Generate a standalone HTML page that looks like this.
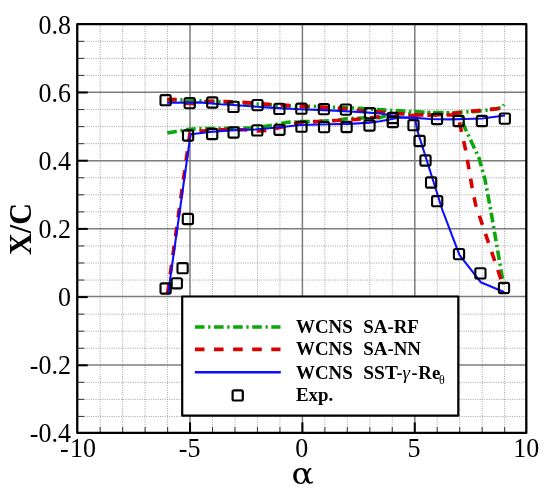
<!DOCTYPE html>
<html><head><meta charset="utf-8"><style>
html,body{margin:0;padding:0;background:#fff;}
svg{display:block;}
</style></head><body>
<svg width="550" height="493" viewBox="0 0 550 493">
<rect width="550" height="493" fill="#fff"/>
<g stroke="#a2a2a2" stroke-width="1" stroke-dasharray="1 1.3"><line x1="100.17" y1="24.1" x2="100.17" y2="432.9"/><line x1="122.64" y1="24.1" x2="122.64" y2="432.9"/><line x1="145.11" y1="24.1" x2="145.11" y2="432.9"/><line x1="167.58" y1="24.1" x2="167.58" y2="432.9"/><line x1="212.52" y1="24.1" x2="212.52" y2="432.9"/><line x1="234.99" y1="24.1" x2="234.99" y2="432.9"/><line x1="257.46" y1="24.1" x2="257.46" y2="432.9"/><line x1="279.93" y1="24.1" x2="279.93" y2="432.9"/><line x1="324.87" y1="24.1" x2="324.87" y2="432.9"/><line x1="347.34" y1="24.1" x2="347.34" y2="432.9"/><line x1="369.81" y1="24.1" x2="369.81" y2="432.9"/><line x1="392.28" y1="24.1" x2="392.28" y2="432.9"/><line x1="437.22" y1="24.1" x2="437.22" y2="432.9"/><line x1="459.69" y1="24.1" x2="459.69" y2="432.9"/><line x1="482.16" y1="24.1" x2="482.16" y2="432.9"/><line x1="504.63" y1="24.1" x2="504.63" y2="432.9"/><line x1="77.25" y1="416.45" x2="526.3" y2="416.45"/><line x1="77.25" y1="399.40" x2="526.3" y2="399.40"/><line x1="77.25" y1="382.35" x2="526.3" y2="382.35"/><line x1="77.25" y1="348.25" x2="526.3" y2="348.25"/><line x1="77.25" y1="331.20" x2="526.3" y2="331.20"/><line x1="77.25" y1="314.15" x2="526.3" y2="314.15"/><line x1="77.25" y1="280.05" x2="526.3" y2="280.05"/><line x1="77.25" y1="263.00" x2="526.3" y2="263.00"/><line x1="77.25" y1="245.95" x2="526.3" y2="245.95"/><line x1="77.25" y1="211.85" x2="526.3" y2="211.85"/><line x1="77.25" y1="194.80" x2="526.3" y2="194.80"/><line x1="77.25" y1="177.75" x2="526.3" y2="177.75"/><line x1="77.25" y1="143.65" x2="526.3" y2="143.65"/><line x1="77.25" y1="126.60" x2="526.3" y2="126.60"/><line x1="77.25" y1="109.55" x2="526.3" y2="109.55"/><line x1="77.25" y1="75.45" x2="526.3" y2="75.45"/><line x1="77.25" y1="58.40" x2="526.3" y2="58.40"/><line x1="77.25" y1="41.35" x2="526.3" y2="41.35"/></g>
<g stroke="#7c7c7c" stroke-width="1.5"><line x1="190.00" y1="24.1" x2="190.00" y2="432.9"/><line x1="302.40" y1="24.1" x2="302.40" y2="432.9"/><line x1="414.80" y1="24.1" x2="414.80" y2="432.9"/><line x1="77.25" y1="92.30" x2="526.3" y2="92.30"/><line x1="77.25" y1="160.80" x2="526.3" y2="160.80"/><line x1="77.25" y1="228.80" x2="526.3" y2="228.80"/><line x1="77.25" y1="296.60" x2="526.3" y2="296.60"/><line x1="77.25" y1="365.00" x2="526.3" y2="365.00"/></g>
<g stroke="#000"><line x1="100.17" y1="432.9" x2="100.17" y2="426.9" stroke-width="1.1" stroke="#444"/><line x1="122.64" y1="432.9" x2="122.64" y2="426.9" stroke-width="1.1" stroke="#444"/><line x1="145.11" y1="432.9" x2="145.11" y2="426.9" stroke-width="1.1" stroke="#444"/><line x1="167.58" y1="432.9" x2="167.58" y2="426.9" stroke-width="1.1" stroke="#444"/><line x1="190.05" y1="432.9" x2="190.05" y2="422.4" stroke-width="2"/><line x1="212.52" y1="432.9" x2="212.52" y2="426.9" stroke-width="1.1" stroke="#444"/><line x1="234.99" y1="432.9" x2="234.99" y2="426.9" stroke-width="1.1" stroke="#444"/><line x1="257.46" y1="432.9" x2="257.46" y2="426.9" stroke-width="1.1" stroke="#444"/><line x1="279.93" y1="432.9" x2="279.93" y2="426.9" stroke-width="1.1" stroke="#444"/><line x1="302.40" y1="432.9" x2="302.40" y2="422.4" stroke-width="2"/><line x1="324.87" y1="432.9" x2="324.87" y2="426.9" stroke-width="1.1" stroke="#444"/><line x1="347.34" y1="432.9" x2="347.34" y2="426.9" stroke-width="1.1" stroke="#444"/><line x1="369.81" y1="432.9" x2="369.81" y2="426.9" stroke-width="1.1" stroke="#444"/><line x1="392.28" y1="432.9" x2="392.28" y2="426.9" stroke-width="1.1" stroke="#444"/><line x1="414.75" y1="432.9" x2="414.75" y2="422.4" stroke-width="2"/><line x1="437.22" y1="432.9" x2="437.22" y2="426.9" stroke-width="1.1" stroke="#444"/><line x1="459.69" y1="432.9" x2="459.69" y2="426.9" stroke-width="1.1" stroke="#444"/><line x1="482.16" y1="432.9" x2="482.16" y2="426.9" stroke-width="1.1" stroke="#444"/><line x1="504.63" y1="432.9" x2="504.63" y2="426.9" stroke-width="1.1" stroke="#444"/><line x1="77.25" y1="416.45" x2="84.25" y2="416.45" stroke-width="1.1" stroke="#444"/><line x1="77.25" y1="399.40" x2="84.25" y2="399.40" stroke-width="1.1" stroke="#444"/><line x1="77.25" y1="382.35" x2="84.25" y2="382.35" stroke-width="1.1" stroke="#444"/><line x1="77.25" y1="365.30" x2="87.75" y2="365.30" stroke-width="2"/><line x1="77.25" y1="348.25" x2="84.25" y2="348.25" stroke-width="1.1" stroke="#444"/><line x1="77.25" y1="331.20" x2="84.25" y2="331.20" stroke-width="1.1" stroke="#444"/><line x1="77.25" y1="314.15" x2="84.25" y2="314.15" stroke-width="1.1" stroke="#444"/><line x1="77.25" y1="297.10" x2="87.75" y2="297.10" stroke-width="2"/><line x1="77.25" y1="280.05" x2="84.25" y2="280.05" stroke-width="1.1" stroke="#444"/><line x1="77.25" y1="263.00" x2="84.25" y2="263.00" stroke-width="1.1" stroke="#444"/><line x1="77.25" y1="245.95" x2="84.25" y2="245.95" stroke-width="1.1" stroke="#444"/><line x1="77.25" y1="228.90" x2="87.75" y2="228.90" stroke-width="2"/><line x1="77.25" y1="211.85" x2="84.25" y2="211.85" stroke-width="1.1" stroke="#444"/><line x1="77.25" y1="194.80" x2="84.25" y2="194.80" stroke-width="1.1" stroke="#444"/><line x1="77.25" y1="177.75" x2="84.25" y2="177.75" stroke-width="1.1" stroke="#444"/><line x1="77.25" y1="160.70" x2="87.75" y2="160.70" stroke-width="2"/><line x1="77.25" y1="143.65" x2="84.25" y2="143.65" stroke-width="1.1" stroke="#444"/><line x1="77.25" y1="126.60" x2="84.25" y2="126.60" stroke-width="1.1" stroke="#444"/><line x1="77.25" y1="109.55" x2="84.25" y2="109.55" stroke-width="1.1" stroke="#444"/><line x1="77.25" y1="92.50" x2="87.75" y2="92.50" stroke-width="2"/><line x1="77.25" y1="75.45" x2="84.25" y2="75.45" stroke-width="1.1" stroke="#444"/><line x1="77.25" y1="58.40" x2="84.25" y2="58.40" stroke-width="1.1" stroke="#444"/><line x1="77.25" y1="41.35" x2="84.25" y2="41.35" stroke-width="1.1" stroke="#444"/></g>
<g fill="none" stroke-linejoin="round">
<polyline points="167.3,133.1 176.0,131.5 188.0,129.6 196.0,128.7 230.0,128.3 250.0,128.0 262.0,126.8 272.0,125.2 280.0,123.6 288.0,122.3 300.0,121.6 320.0,121.4 335.0,120.5 346.0,118.8 362.0,118.0 380.0,117.6 392.0,114.0 415.0,113.0 440.0,112.5 462.0,113.0 463.4,124.6 479.0,158.0 484.7,178.2 490.2,207.2 504.0,287.3" stroke="#0aa80a" stroke-width="3.6" stroke-dasharray="9.6 3.7 2.2 3.6"/>
<polyline points="167.0,99.9 181.0,99.9 200.6,100.9 219.7,101.9 257.0,104.0 294.0,106.2 314.0,106.4 325.0,107.2 340.0,107.4 360.0,108.3 378.0,109.6 400.0,110.9 418.0,111.8 435.0,112.8 450.0,113.0 460.0,112.2 477.5,111.4 495.5,109.0 502.0,107.5 504.0,104.5" stroke="#0aa80a" stroke-width="3.6" stroke-dasharray="9.6 3.7 2.2 3.6"/>
<polyline points="167.6,293.2 190.0,132.4 200.0,131.2 215.0,130.3 225.0,129.6 245.0,129.8 258.0,131.0 266.0,130.4 280.0,127.6 295.0,123.5 317.0,121.5 337.0,120.5 356.0,119.4 370.0,117.8 380.0,116.8 392.0,116.5 415.0,115.3 440.0,115.0 458.0,115.0 460.0,125.0 465.7,150.2 469.0,169.2 472.4,189.3 475.7,205.0 503.0,285.3" stroke="#d90000" stroke-width="3.6" stroke-dasharray="9.6 9.5"/>
<polyline points="167.0,99.4 177.0,99.6 186.0,103.3 194.0,103.8 201.0,102.4 210.0,101.2 225.0,101.5 247.0,102.6 267.0,104.2 287.0,105.4 300.0,106.4 325.0,107.4 345.0,108.9 360.0,110.5 392.0,113.0 415.0,115.0 446.0,114.6 458.0,112.8 470.0,111.4 490.0,109.4 500.0,108.4" stroke="#d90000" stroke-width="3.6" stroke-dasharray="9.6 9.5"/>
<polyline points="168.2,292.6 190.6,134.2 195.0,133.8 210.0,132.0 230.0,130.4 255.0,129.5 280.0,127.3 300.0,125.0 330.0,124.3 350.0,123.9 370.0,122.6 380.0,121.2 392.0,119.0 400.0,117.4 415.0,118.0 417.2,130.0 442.4,210.0 459.4,254.8 480.7,282.2 504.0,292.0" stroke="#0d0dff" stroke-width="2.1"/>
<polyline points="167.0,102.8 200.0,102.4 220.0,104.2 230.0,104.7 250.0,106.2 270.0,107.6 290.0,108.8 300.0,109.3 330.0,110.4 350.0,111.5 365.0,112.4 380.0,113.5 392.0,115.5 400.0,117.2 415.0,117.9 430.0,119.0 450.0,119.4 465.0,119.0 482.0,118.5 505.0,115.5" stroke="#0d0dff" stroke-width="2.1"/>
</g>
<g fill="none" stroke="#000" stroke-width="2.1"><rect x="160.50" y="95.10" width="10.2" height="10.2" rx="1.6"/><rect x="184.60" y="98.00" width="10.2" height="10.2" rx="1.6"/><rect x="207.20" y="97.40" width="10.2" height="10.2" rx="1.6"/><rect x="228.40" y="101.80" width="10.2" height="10.2" rx="1.6"/><rect x="252.40" y="100.00" width="10.2" height="10.2" rx="1.6"/><rect x="274.30" y="103.80" width="10.2" height="10.2" rx="1.6"/><rect x="296.30" y="103.60" width="10.2" height="10.2" rx="1.6"/><rect x="318.80" y="104.00" width="10.2" height="10.2" rx="1.6"/><rect x="340.80" y="104.50" width="10.2" height="10.2" rx="1.6"/><rect x="364.90" y="108.10" width="10.2" height="10.2" rx="1.6"/><rect x="387.70" y="112.90" width="10.2" height="10.2" rx="1.6"/><rect x="431.90" y="113.90" width="10.2" height="10.2" rx="1.6"/><rect x="453.50" y="115.90" width="10.2" height="10.2" rx="1.6"/><rect x="476.80" y="115.90" width="10.2" height="10.2" rx="1.6"/><rect x="499.70" y="113.50" width="10.2" height="10.2" rx="1.6"/><rect x="183.00" y="130.40" width="10.2" height="10.2" rx="1.6"/><rect x="207.10" y="128.90" width="10.2" height="10.2" rx="1.6"/><rect x="228.50" y="127.40" width="10.2" height="10.2" rx="1.6"/><rect x="252.20" y="125.30" width="10.2" height="10.2" rx="1.6"/><rect x="274.40" y="124.70" width="10.2" height="10.2" rx="1.6"/><rect x="296.40" y="121.60" width="10.2" height="10.2" rx="1.6"/><rect x="319.00" y="122.00" width="10.2" height="10.2" rx="1.6"/><rect x="341.50" y="121.90" width="10.2" height="10.2" rx="1.6"/><rect x="364.40" y="120.40" width="10.2" height="10.2" rx="1.6"/><rect x="387.70" y="116.90" width="10.2" height="10.2" rx="1.6"/><rect x="408.40" y="120.10" width="10.2" height="10.2" rx="1.6"/><rect x="160.50" y="283.40" width="10.2" height="10.2" rx="1.6"/><rect x="171.70" y="278.20" width="10.2" height="10.2" rx="1.6"/><rect x="177.50" y="263.10" width="10.2" height="10.2" rx="1.6"/><rect x="182.80" y="213.90" width="10.2" height="10.2" rx="1.6"/><rect x="414.50" y="135.90" width="10.2" height="10.2" rx="1.6"/><rect x="420.40" y="155.40" width="10.2" height="10.2" rx="1.6"/><rect x="426.00" y="177.40" width="10.2" height="10.2" rx="1.6"/><rect x="432.10" y="196.10" width="10.2" height="10.2" rx="1.6"/><rect x="453.90" y="249.00" width="10.2" height="10.2" rx="1.6"/><rect x="475.30" y="268.30" width="10.2" height="10.2" rx="1.6"/><rect x="498.90" y="282.90" width="10.2" height="10.2" rx="1.6"/></g>
<rect x="77.25" y="24.1" width="449.04999999999995" height="408.79999999999995" fill="none" stroke="#000" stroke-width="2.3" stroke-linejoin="round"/>
<rect x="182.2" y="296.5" width="276.1" height="119.10000000000002" fill="#fff" stroke="#000" stroke-width="2.2" stroke-linejoin="round"/>
<line x1="194.9" y1="327" x2="280.5" y2="327" stroke="#0aa80a" stroke-width="3.6" stroke-dasharray="9.6 3.7 2.2 3.6"/>
<line x1="194.9" y1="349.4" x2="280.5" y2="349.4" stroke="#d90000" stroke-width="3.6" stroke-dasharray="9.6 9.5"/>
<line x1="194.8" y1="372.3" x2="280.8" y2="372.3" stroke="#0d0dff" stroke-width="2.5"/>
<rect x="232.60" y="390.30" width="10.2" height="10.2" rx="1.6" fill="none" stroke="#000" stroke-width="2.2"/>
<g font-family="Liberation Serif, serif" font-weight="bold" font-size="18" fill="#000">
<text x="296" y="332.6" transform="translate(296 0) scale(1.05 1) translate(-296 0)">WCNS</text><text x="363.3" y="332.6" transform="translate(363.3 0) scale(1.05 1) translate(-363.3 0)">SA-RF</text>
<text x="296" y="355.4" transform="translate(296 0) scale(1.05 1) translate(-296 0)">WCNS</text><text x="363.3" y="355.4" transform="translate(363.3 0) scale(1.05 1) translate(-363.3 0)">SA-NN</text>
<text x="296" y="378.6" transform="translate(296 0) scale(1.05 1) translate(-296 0)">WCNS</text><text x="363.3" y="378.6" transform="translate(363.3 0) scale(1.08 1) translate(-363.3 0)">SST</text>
<text x="396.6" y="378.6">-</text><text x="402.6" y="378.6" font-weight="normal" font-style="italic" font-size="19">γ</text><text x="411.6" y="378.6">-</text>
<text x="418.3" y="378.6" transform="translate(418.3 0) scale(1.05 1) translate(-418.3 0)">Re</text><text x="438.9" y="383.9" font-weight="normal" font-size="12">θ</text>
<text x="296" y="401.3" transform="translate(296 0) scale(1.05 1) translate(-296 0)">Exp.</text>
</g>
<g font-family="Liberation Serif, serif" font-size="26" fill="#000"><text x="71" y="33.3" text-anchor="end" transform="translate(0 24.90) scale(1 1.08) translate(0 -24.90)">0.8</text><text x="71" y="101.4" text-anchor="end" transform="translate(0 92.98) scale(1 1.08) translate(0 -92.98)">0.6</text><text x="71" y="169.5" text-anchor="end" transform="translate(0 161.06) scale(1 1.08) translate(0 -161.06)">0.4</text><text x="71" y="237.5" text-anchor="end" transform="translate(0 229.14) scale(1 1.08) translate(0 -229.14)">0.2</text><text x="71" y="305.6" text-anchor="end" transform="translate(0 297.22) scale(1 1.08) translate(0 -297.22)">0</text><text x="71" y="373.7" text-anchor="end" transform="translate(0 365.30) scale(1 1.08) translate(0 -365.30)">-0.2</text><text x="71" y="441.8" text-anchor="end" transform="translate(0 433.38) scale(1 1.08) translate(0 -433.38)">-0.4</text><text x="78.0" y="456.9" text-anchor="middle" transform="translate(0 456.9) scale(1 1.06) translate(0 -456.9)">-<tspan dx="1.3">10</tspan></text><text x="189.6" y="456.9" text-anchor="middle" transform="translate(0 456.9) scale(1 1.06) translate(0 -456.9)">-5</text><text x="301.8" y="456.9" text-anchor="middle" transform="translate(0 456.9) scale(1 1.06) translate(0 -456.9)">0</text><text x="414.1" y="456.9" text-anchor="middle" transform="translate(0 456.9) scale(1 1.06) translate(0 -456.9)">5</text><text x="526.3" y="456.9" text-anchor="middle" transform="translate(0 456.9) scale(1 1.06) translate(0 -456.9)">10</text></g>
<text x="0" y="0" transform="translate(291.4 484.1) scale(1.08 1)" font-family="DejaVu Serif, serif" font-size="30.5">α</text>
<text transform="translate(30.5,229.0) rotate(-90) scale(0.972 1)" font-family="Liberation Serif, serif" font-weight="bold" font-size="31" text-anchor="middle">X/C</text>
</svg>
</body></html>
